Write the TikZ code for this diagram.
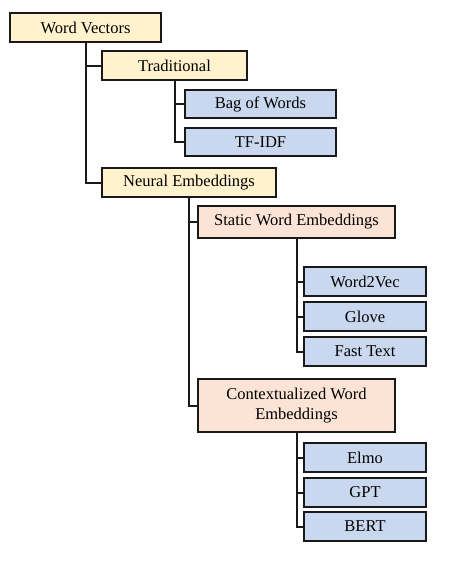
\documentclass[tikz,border=0pt]{standalone}
\usepackage{fontspec}
\setmainfont{Liberation Serif}
\definecolor{yel}{HTML}{FFF2CC}
\definecolor{pch}{HTML}{FBE4D6}
\definecolor{blu}{HTML}{C9D8EF}
\begin{document}
\begin{tikzpicture}[x=1pt,y=-1pt,
  box/.style={draw=black!90, line width=2pt, inner sep=0pt, font=\fontsize{16.5}{18}\selectfont, align=center},
  lvla/.style={box, fill=yel},
  lvlb/.style={box, fill=pch},
  leaf/.style={box, fill=blu},
  conn/.style={draw=black!90, line width=2pt}]
\useasboundingbox (0,0) rectangle (474,579);
\node[lvla, minimum width=151pt, minimum height=29pt] (wv) at (85.5,27.5) {Word Vectors};
\node[lvla, minimum width=145pt, minimum height=29pt] (trad) at (174.5,65.5) {Traditional};
\node[leaf, minimum width=151pt, minimum height=28pt] (bow) at (260.5,104) {Bag of Words};
\node[leaf, minimum width=151pt, minimum height=28pt] (tfidf) at (260.5,142) {TF-IDF};
\node[lvla, minimum width=174pt, minimum height=29pt] (neur) at (189,182.5) {Neural Embeddings};
\node[lvlb, minimum width=197pt, minimum height=32pt] (stat) at (296.5,222) {Static Word Embeddings};
\node[leaf, minimum width=122pt, minimum height=29pt] (w2v) at (365,281.5) {Word2Vec};
\node[leaf, minimum width=122pt, minimum height=29pt] (glove) at (365,316.5) {Glove};
\node[leaf, minimum width=122pt, minimum height=29pt] (fast) at (365,351.5) {Fast Text};
\node[lvlb, minimum width=197pt, minimum height=53pt] (ctx) at (296.5,405.5) {Contextualized Word\\[1.5pt]Embeddings};
\node[leaf, minimum width=122pt, minimum height=29pt] (elmo) at (365,457.5) {Elmo};
\node[leaf, minimum width=122pt, minimum height=29pt] (gpt) at (365,492.5) {GPT};
\node[leaf, minimum width=122pt, minimum height=29pt] (bert) at (365,526.5) {BERT};
\draw[conn] (wv.south) |- (trad.west);
\draw[conn] (wv.south) |- (neur.west);
\draw[conn] (trad.south) |- (bow.west);
\draw[conn] (trad.south) |- (tfidf.west);
\draw[conn] (neur.south) |- (stat.west);
\draw[conn] (neur.south) |- (ctx.west);
\draw[conn] (stat.south) |- (w2v.west);
\draw[conn] (stat.south) |- (glove.west);
\draw[conn] (stat.south) |- (fast.west);
\draw[conn] (ctx.south) |- (elmo.west);
\draw[conn] (ctx.south) |- (gpt.west);
\draw[conn] (ctx.south) |- (bert.west);
\end{tikzpicture}
\end{document}
